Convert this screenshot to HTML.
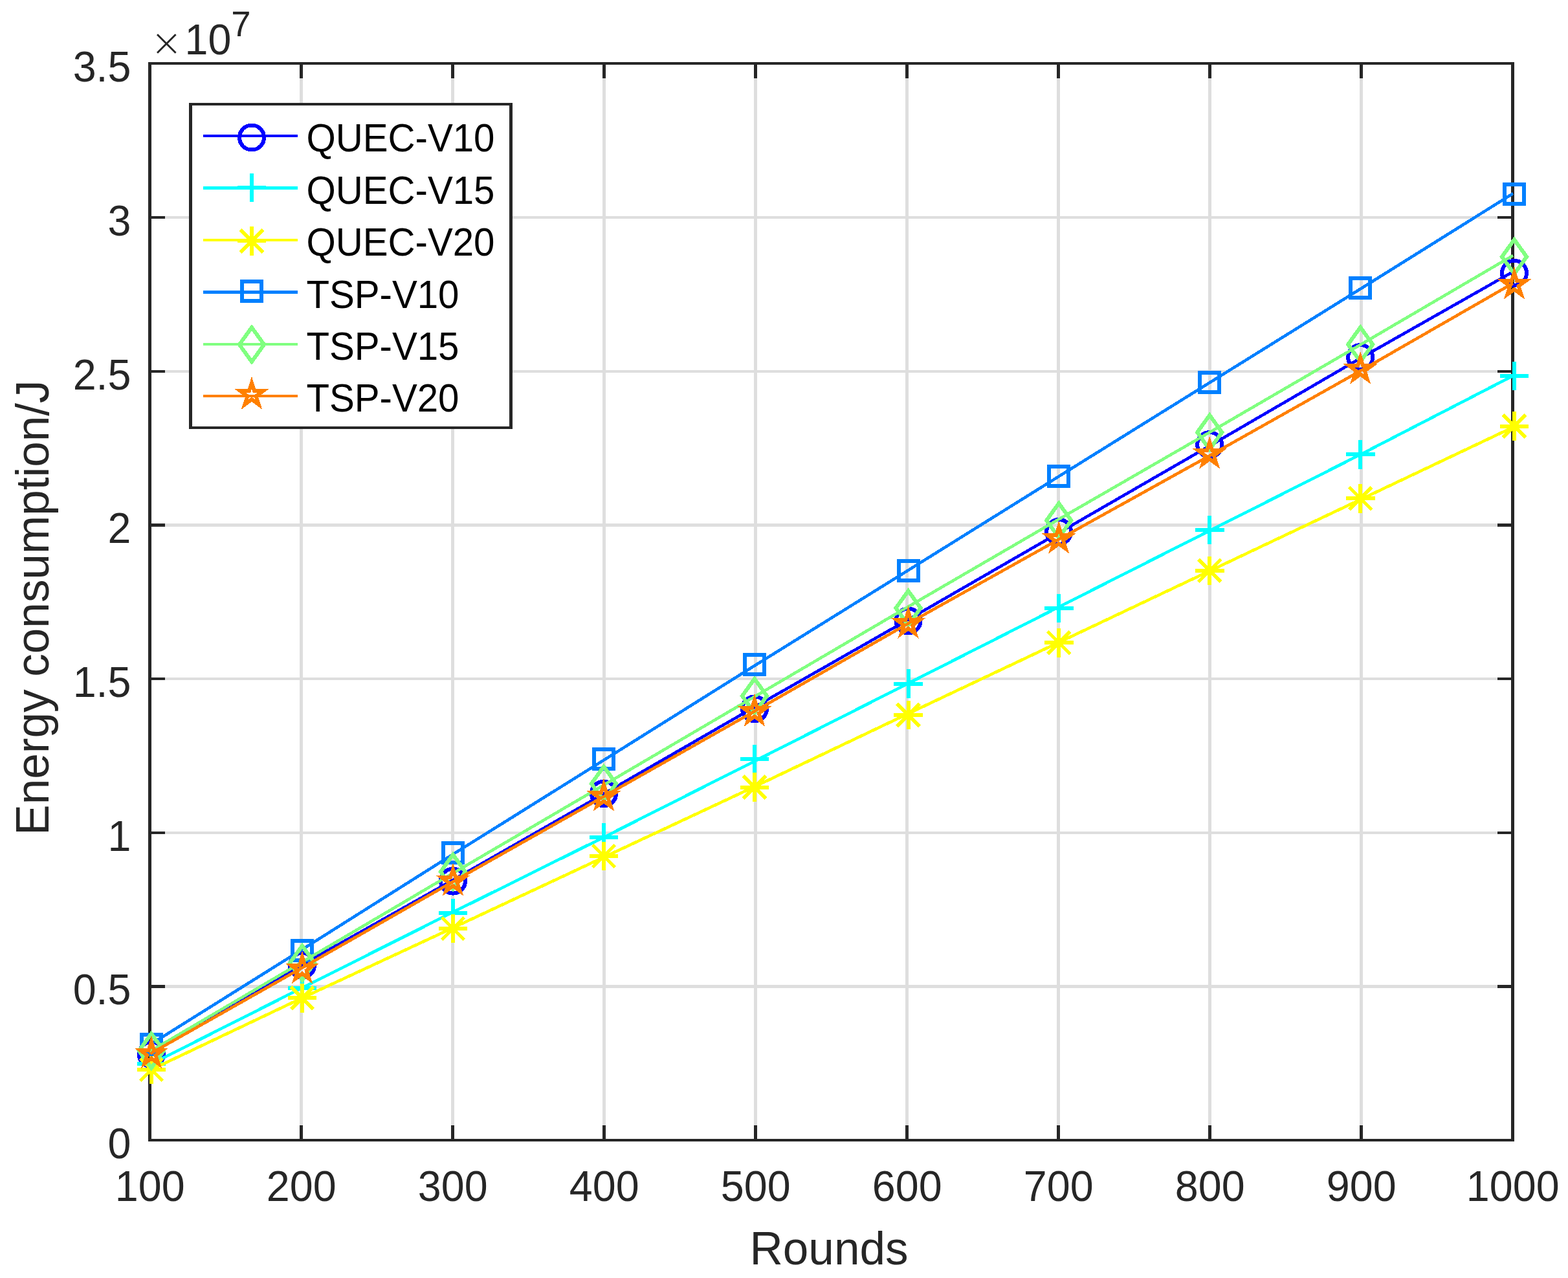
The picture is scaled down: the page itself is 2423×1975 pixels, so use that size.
<!DOCTYPE html>
<html lang="en"><head><meta charset="utf-8"><title>Energy consumption vs Rounds</title>
<style>html,body{margin:0;padding:0;background:#fff;overflow:hidden}svg{display:block}text{font-family:"Liberation Sans",sans-serif}</style>
</head><body>
<svg width="2423" height="1975" viewBox="0 0 2423 1975">
<rect width="2423" height="1975" fill="#fff"/>
<g fill="#dedede" shape-rendering="crispEdges"><rect x="463" y="100" width="5" height="1660"/><rect x="697" y="100" width="5" height="1660"/><rect x="931" y="100" width="5" height="1660"/><rect x="1165" y="100" width="5" height="1660"/><rect x="1399" y="100" width="5" height="1660"/><rect x="1633" y="100" width="5" height="1660"/><rect x="1867" y="100" width="5" height="1660"/><rect x="2101" y="100" width="5" height="1660"/><rect x="234" y="1522" width="2101" height="5"/><rect x="234" y="1285" width="2101" height="4"/><rect x="234" y="1047" width="2101" height="4"/><rect x="234" y="809" width="2101" height="5"/><rect x="234" y="572" width="2101" height="4"/><rect x="234" y="334" width="2101" height="4"/></g>
<g fill="#262626" shape-rendering="crispEdges"><rect x="229" y="96" width="5" height="1668"/><rect x="2335" y="96" width="5" height="1668"/><rect x="229" y="96" width="2111" height="4"/><rect x="229" y="1760" width="2111" height="4"/><rect x="463" y="1739" width="5" height="21"/><rect x="463" y="100" width="5" height="21"/><rect x="697" y="1739" width="5" height="21"/><rect x="697" y="100" width="5" height="21"/><rect x="931" y="1739" width="5" height="21"/><rect x="931" y="100" width="5" height="21"/><rect x="1165" y="1739" width="5" height="21"/><rect x="1165" y="100" width="5" height="21"/><rect x="1399" y="1739" width="5" height="21"/><rect x="1399" y="100" width="5" height="21"/><rect x="1633" y="1739" width="5" height="21"/><rect x="1633" y="100" width="5" height="21"/><rect x="1867" y="1739" width="5" height="21"/><rect x="1867" y="100" width="5" height="21"/><rect x="2101" y="1739" width="5" height="21"/><rect x="2101" y="100" width="5" height="21"/><rect x="234" y="1522" width="21" height="5"/><rect x="2314" y="1522" width="21" height="5"/><rect x="234" y="1285" width="21" height="4"/><rect x="2314" y="1285" width="21" height="4"/><rect x="234" y="1047" width="21" height="4"/><rect x="2314" y="1047" width="21" height="4"/><rect x="234" y="809" width="21" height="5"/><rect x="2314" y="809" width="21" height="5"/><rect x="234" y="572" width="21" height="4"/><rect x="2314" y="572" width="21" height="4"/><rect x="234" y="334" width="21" height="4"/><rect x="2314" y="334" width="21" height="4"/></g>
<g shape-rendering="crispEdges" stroke-linejoin="miter">
<polyline points="232,1628.86 466,1491.52 700,1360 934,1226.2 1168,1091.48 1402,958.36 1636,823.5 1870,688.55 2104,552.6 2338,419.98" fill="none" stroke="#0000ff" stroke-width="4.6" stroke-linejoin="round"/>
<circle cx="233.9" cy="1629.5" r="19" fill="none" stroke="#0000ff" stroke-width="6"/>
<circle cx="467" cy="1491.8" r="19" fill="none" stroke="#0000ff" stroke-width="6"/>
<circle cx="700" cy="1361.6" r="19" fill="none" stroke="#0000ff" stroke-width="6"/>
<circle cx="933" cy="1226.5" r="19" fill="none" stroke="#0000ff" stroke-width="6"/>
<circle cx="1166" cy="1095.4" r="19" fill="none" stroke="#0000ff" stroke-width="6"/>
<circle cx="1403.5" cy="959.4" r="19" fill="none" stroke="#0000ff" stroke-width="6"/>
<circle cx="1636.2" cy="821.9" r="19" fill="none" stroke="#0000ff" stroke-width="6"/>
<circle cx="1869.2" cy="687.1" r="19" fill="none" stroke="#0000ff" stroke-width="6"/>
<circle cx="2102.2" cy="552.1" r="19" fill="none" stroke="#0000ff" stroke-width="6"/>
<circle cx="2340" cy="421.8" r="19" fill="none" stroke="#0000ff" stroke-width="6"/>
<polyline points="232,1645.17 466,1527.02 700,1409.61 934,1293.43 1168,1175.31 1402,1056.84 1636,938.12 1870,819.77 2104,701.57 2338,580.73" fill="none" stroke="#00ffff" stroke-width="4.6" stroke-linejoin="round"/>
<path d="M211.6 1643.5H256.2M233.9 1621.2V1665.8" fill="none" stroke="#00ffff" stroke-width="6"/>
<path d="M444.7 1527.1H489.3M467 1504.8V1549.4" fill="none" stroke="#00ffff" stroke-width="6"/>
<path d="M677.7 1410.9H722.3M700 1388.6V1433.2" fill="none" stroke="#00ffff" stroke-width="6"/>
<path d="M910.7 1294.1H955.3M933 1271.8V1316.4" fill="none" stroke="#00ffff" stroke-width="6"/>
<path d="M1143.7 1173H1188.3M1166 1150.7V1195.3" fill="none" stroke="#00ffff" stroke-width="6"/>
<path d="M1381.2 1056.5H1425.8M1403.5 1034.2V1078.8" fill="none" stroke="#00ffff" stroke-width="6"/>
<path d="M1613.9 940H1658.5M1636.2 917.7V962.3" fill="none" stroke="#00ffff" stroke-width="6"/>
<path d="M1846.9 818.8H1891.5M1869.2 796.5V841.1" fill="none" stroke="#00ffff" stroke-width="6"/>
<path d="M2079.9 702.2H2124.5M2102.2 679.9V724.5" fill="none" stroke="#00ffff" stroke-width="6"/>
<path d="M2317.7 581H2362.3M2340 558.7V603.3" fill="none" stroke="#00ffff" stroke-width="6"/>
<polyline points="232,1653.82 466,1542.67 700,1433.81 934,1324.28 1168,1214.78 1402,1103.51 1636,992.82 1870,881.99 2104,771.16 2338,660.27" fill="none" stroke="#ffff00" stroke-width="4.6" stroke-linejoin="round"/>
<path d="M211.6 1653H256.2M233.9 1630.7V1675.3" fill="none" stroke="#ffff00" stroke-width="6"/><path d="M216.5 1635.6L251.3 1670.4M216.5 1670.4L251.3 1635.6" fill="none" stroke="#ffff00" stroke-width="5.4"/>
<path d="M444.7 1542.2H489.3M467 1519.9V1564.5" fill="none" stroke="#ffff00" stroke-width="6"/><path d="M449.6 1524.8L484.4 1559.6M449.6 1559.6L484.4 1524.8" fill="none" stroke="#ffff00" stroke-width="5.4"/>
<path d="M677.7 1435.1H722.3M700 1412.8V1457.4" fill="none" stroke="#ffff00" stroke-width="6"/><path d="M682.6 1417.7L717.4 1452.5M682.6 1452.5L717.4 1417.7" fill="none" stroke="#ffff00" stroke-width="5.4"/>
<path d="M910.7 1323H955.3M933 1300.7V1345.3" fill="none" stroke="#ffff00" stroke-width="6"/><path d="M915.6 1305.6L950.4 1340.4M915.6 1340.4L950.4 1305.6" fill="none" stroke="#ffff00" stroke-width="5.4"/>
<path d="M1143.7 1216.5H1188.3M1166 1194.2V1238.8" fill="none" stroke="#ffff00" stroke-width="6"/><path d="M1148.6 1199.1L1183.4 1233.9M1148.6 1233.9L1183.4 1199.1" fill="none" stroke="#ffff00" stroke-width="5.4"/>
<path d="M1381.2 1105.1H1425.8M1403.5 1082.8V1127.4" fill="none" stroke="#ffff00" stroke-width="6"/><path d="M1386.1 1087.7L1420.9 1122.5M1386.1 1122.5L1420.9 1087.7" fill="none" stroke="#ffff00" stroke-width="5.4"/>
<path d="M1613.9 993.2H1658.5M1636.2 970.9V1015.5" fill="none" stroke="#ffff00" stroke-width="6"/><path d="M1618.8 975.8L1653.6 1010.6M1618.8 1010.6L1653.6 975.8" fill="none" stroke="#ffff00" stroke-width="5.4"/>
<path d="M1846.9 881.8H1891.5M1869.2 859.5V904.1" fill="none" stroke="#ffff00" stroke-width="6"/><path d="M1851.8 864.4L1886.6 899.2M1851.8 899.2L1886.6 864.4" fill="none" stroke="#ffff00" stroke-width="5.4"/>
<path d="M2079.9 770.2H2124.5M2102.2 747.9V792.5" fill="none" stroke="#ffff00" stroke-width="6"/><path d="M2084.8 752.8L2119.6 787.6M2084.8 787.6L2119.6 752.8" fill="none" stroke="#ffff00" stroke-width="5.4"/>
<path d="M2317.7 658.7H2362.3M2340 636.4V681" fill="none" stroke="#ffff00" stroke-width="6"/><path d="M2322.6 641.3L2357.4 676.1M2322.6 676.1L2357.4 641.3" fill="none" stroke="#ffff00" stroke-width="5.4"/>
<polyline points="232,1614.4 466,1467.93 700,1320.19 934,1174.08 1168,1027.51 1402,882.19 1636,736.33 1870,590.86 2104,445.4 2338,299.1" fill="none" stroke="#0080ff" stroke-width="4.6" stroke-linejoin="round"/>
<rect x="218.9" y="1598.8" width="30" height="30" fill="none" stroke="#0080ff" stroke-width="6"/>
<rect x="452" y="1453.8" width="30" height="30" fill="none" stroke="#0080ff" stroke-width="6"/>
<rect x="685" y="1303" width="30" height="30" fill="none" stroke="#0080ff" stroke-width="6"/>
<rect x="918" y="1158" width="30" height="30" fill="none" stroke="#0080ff" stroke-width="6"/>
<rect x="1151" y="1012" width="30" height="30" fill="none" stroke="#0080ff" stroke-width="6"/>
<rect x="1388.5" y="867" width="30" height="30" fill="none" stroke="#0080ff" stroke-width="6"/>
<rect x="1621.2" y="721" width="30" height="30" fill="none" stroke="#0080ff" stroke-width="6"/>
<rect x="1854.2" y="576" width="30" height="30" fill="none" stroke="#0080ff" stroke-width="6"/>
<rect x="2087.2" y="430.2" width="30" height="30" fill="none" stroke="#0080ff" stroke-width="6"/>
<rect x="2325" y="284.9" width="30" height="30" fill="none" stroke="#0080ff" stroke-width="6"/>
<polyline points="232,1624.78 466,1487.24 700,1349.44 934,1212.64 1168,1075.43 1402,938.39 1636,802.52 1870,667.68 2104,531.69 2338,394.84" fill="none" stroke="#80ff80" stroke-width="4.6" stroke-linejoin="round"/>
<path d="M233.9 1597.4L253 1623.9L233.9 1650.4L214.8 1623.9Z" fill="none" stroke="#80ff80" stroke-width="6" stroke-miterlimit="10"/>
<path d="M467 1461.6L486.1 1488.1L467 1514.6L447.9 1488.1Z" fill="none" stroke="#80ff80" stroke-width="6" stroke-miterlimit="10"/>
<path d="M700 1320.7L719.1 1347.2L700 1373.7L680.9 1347.2Z" fill="none" stroke="#80ff80" stroke-width="6" stroke-miterlimit="10"/>
<path d="M933 1184.6L952.1 1211.1L933 1237.6L913.9 1211.1Z" fill="none" stroke="#80ff80" stroke-width="6" stroke-miterlimit="10"/>
<path d="M1166 1049L1185.1 1075.5L1166 1102L1146.9 1075.5Z" fill="none" stroke="#80ff80" stroke-width="6" stroke-miterlimit="10"/>
<path d="M1403.5 913.1L1422.6 939.6L1403.5 966.1L1384.4 939.6Z" fill="none" stroke="#80ff80" stroke-width="6" stroke-miterlimit="10"/>
<path d="M1636.2 777.8L1655.3 804.3L1636.2 830.8L1617.1 804.3Z" fill="none" stroke="#80ff80" stroke-width="6" stroke-miterlimit="10"/>
<path d="M1869.2 641.6L1888.3 668.1L1869.2 694.6L1850.1 668.1Z" fill="none" stroke="#80ff80" stroke-width="6" stroke-miterlimit="10"/>
<path d="M2102.2 505.8L2121.3 532.3L2102.2 558.8L2083.1 532.3Z" fill="none" stroke="#80ff80" stroke-width="6" stroke-miterlimit="10"/>
<path d="M2340 370.3L2359.1 396.8L2340 423.3L2320.9 396.8Z" fill="none" stroke="#80ff80" stroke-width="6" stroke-miterlimit="10"/>
<polyline points="232,1628.55 466,1496.09 700,1362.59 934,1230.39 1168,1098.04 1402,964.39 1636,833.67 1870,703.77 2104,572.15 2338,437.79" fill="none" stroke="#ff8000" stroke-width="4.6" stroke-linejoin="round"/>
<path d="M233.9 1609.83L238.01 1622.73L251.3 1622.73L240.55 1630.7L244.66 1643.6L233.9 1635.63L223.14 1643.6L227.25 1630.7L216.5 1622.73L229.79 1622.73Z" fill="none" stroke="#ff8000" stroke-width="5.8" stroke-miterlimit="10"/>
<path d="M467 1478.83L471.11 1491.73L484.4 1491.73L473.65 1499.7L477.76 1512.6L467 1504.63L456.24 1512.6L460.35 1499.7L449.6 1491.73L462.89 1491.73Z" fill="none" stroke="#ff8000" stroke-width="5.8" stroke-miterlimit="10"/>
<path d="M700 1343.23L704.11 1356.13L717.4 1356.13L706.65 1364.1L710.76 1377L700 1369.03L689.24 1377L693.35 1364.1L682.6 1356.13L695.89 1356.13Z" fill="none" stroke="#ff8000" stroke-width="5.8" stroke-miterlimit="10"/>
<path d="M933 1212.33L937.11 1225.23L950.4 1225.23L939.65 1233.2L943.76 1246.1L933 1238.13L922.24 1246.1L926.35 1233.2L915.6 1225.23L928.89 1225.23Z" fill="none" stroke="#ff8000" stroke-width="5.8" stroke-miterlimit="10"/>
<path d="M1166 1081.43L1170.11 1094.33L1183.4 1094.33L1172.65 1102.3L1176.76 1115.2L1166 1107.23L1155.24 1115.2L1159.35 1102.3L1148.6 1094.33L1161.89 1094.33Z" fill="none" stroke="#ff8000" stroke-width="5.8" stroke-miterlimit="10"/>
<path d="M1403.5 945.43L1407.61 958.33L1420.9 958.33L1410.15 966.3L1414.26 979.2L1403.5 971.23L1392.74 979.2L1396.85 966.3L1386.1 958.33L1399.39 958.33Z" fill="none" stroke="#ff8000" stroke-width="5.8" stroke-miterlimit="10"/>
<path d="M1636.2 814.43L1640.31 827.33L1653.6 827.33L1642.85 835.3L1646.96 848.2L1636.2 840.23L1625.44 848.2L1629.55 835.3L1618.8 827.33L1632.09 827.33Z" fill="none" stroke="#ff8000" stroke-width="5.8" stroke-miterlimit="10"/>
<path d="M1869.2 683.43L1873.31 696.33L1886.6 696.33L1875.85 704.3L1879.96 717.2L1869.2 709.23L1858.44 717.2L1862.55 704.3L1851.8 696.33L1865.09 696.33Z" fill="none" stroke="#ff8000" stroke-width="5.8" stroke-miterlimit="10"/>
<path d="M2102.2 552.43L2106.31 565.33L2119.6 565.33L2108.85 573.3L2112.96 586.2L2102.2 578.23L2091.44 586.2L2095.55 573.3L2084.8 565.33L2098.09 565.33Z" fill="none" stroke="#ff8000" stroke-width="5.8" stroke-miterlimit="10"/>
<path d="M2340 421.33L2344.11 434.23L2357.4 434.23L2346.65 442.2L2350.76 455.1L2340 447.13L2329.24 455.1L2333.35 442.2L2322.6 434.23L2335.89 434.23Z" fill="none" stroke="#ff8000" stroke-width="5.8" stroke-miterlimit="10"/>
</g>
<g shape-rendering="crispEdges"><rect x="292" y="159" width="500" height="504" fill="#262626"/><rect x="297" y="163" width="490" height="496" fill="#fff"/></g>
<g shape-rendering="crispEdges">
<rect x="314" y="208" width="146" height="4" fill="#0000ff"/>
<circle cx="389" cy="212.5" r="19" fill="none" stroke="#0000ff" stroke-width="6"/>
<rect x="314" y="288" width="146" height="5" fill="#00ffff"/>
<path d="M366.7 290H411.3M389 267.7V312.3" fill="none" stroke="#00ffff" stroke-width="6"/>
<rect x="314" y="369" width="146" height="4" fill="#ffff00"/>
<path d="M366.7 372.3H411.3M389 350V394.6" fill="none" stroke="#ffff00" stroke-width="6"/><path d="M371.6 354.9L406.4 389.7M371.6 389.7L406.4 354.9" fill="none" stroke="#ffff00" stroke-width="5.4"/>
<rect x="314" y="449" width="146" height="5" fill="#0080ff"/>
<rect x="374" y="435.07" width="30" height="30" fill="none" stroke="#0080ff" stroke-width="6"/>
<rect x="314" y="530" width="146" height="4" fill="#80ff80"/>
<path d="M389 506L408.1 532.5L389 559L369.9 532.5Z" fill="none" stroke="#80ff80" stroke-width="6" stroke-miterlimit="10"/>
<rect x="314" y="610" width="146" height="4" fill="#ff8000"/>
<path d="M389 591.38L393.11 604.28L406.4 604.28L395.65 612.25L399.76 625.15L389 617.18L378.24 625.15L382.35 612.25L371.6 604.28L384.89 604.28Z" fill="none" stroke="#ff8000" stroke-width="5.8" stroke-miterlimit="10"/>
</g>
<g font-size="58.2" fill="#000">
<text transform="translate(473.4 234.25) scale(1 1.050)">QUEC-V10</text>
<text transform="translate(473.4 314.6) scale(1 1.050)">QUEC-V15</text>
<text transform="translate(473.4 395.25) scale(1 1.050)">QUEC-V20</text>
<text transform="translate(473.4 475.7) scale(1 1.050)">TSP-V10</text>
<text transform="translate(473.4 556.2) scale(1 1.050)">TSP-V15</text>
<text transform="translate(473.4 636.25) scale(1 1.050)">TSP-V20</text>
</g>
<g font-size="64.6" fill="#262626">
<g text-anchor="middle">
<text transform="translate(231.7 1856.4) scale(1 1.025)">100</text>
<text transform="translate(465.7 1856.4) scale(1 1.025)">200</text>
<text transform="translate(699.7 1856.4) scale(1 1.025)">300</text>
<text transform="translate(933.7 1856.4) scale(1 1.025)">400</text>
<text transform="translate(1167.7 1856.4) scale(1 1.025)">500</text>
<text transform="translate(1401.7 1856.4) scale(1 1.025)">600</text>
<text transform="translate(1635.7 1856.4) scale(1 1.025)">700</text>
<text transform="translate(1869.7 1856.4) scale(1 1.025)">800</text>
<text transform="translate(2103.7 1856.4) scale(1 1.025)">900</text>
<text transform="translate(2337.7 1856.4) scale(1 1.025)">1000</text>
</g><g text-anchor="end">
<text transform="translate(202.5 1789.5) scale(1 1.025)">0</text>
<text transform="translate(202.5 1552) scale(1 1.025)">0.5</text>
<text transform="translate(202.5 1314.5) scale(1 1.025)">1</text>
<text transform="translate(202.5 1076.5) scale(1 1.025)">1.5</text>
<text transform="translate(202.5 839) scale(1 1.025)">2</text>
<text transform="translate(202.5 601.5) scale(1 1.025)">2.5</text>
<text transform="translate(202.5 363.5) scale(1 1.025)">3</text>
<text transform="translate(202.5 125.5) scale(1 1.025)">3.5</text>
</g>
<text x="232.4" y="86.4" font-size="59.2" font-weight="200" style="font-family:'DejaVu Sans','Liberation Sans',sans-serif">×</text>
<text transform="translate(285.5 84.3) scale(1 1.025)">10</text>
<text transform="translate(357.3 55.6) scale(1 1.025)" font-size="54.5">7</text>
</g>
<g font-size="71.1" fill="#262626">
<text transform="translate(1158.5 1954.2) scale(1 1.020)">Rounds</text>
<text transform="translate(74.9 1290.7) rotate(-90) scale(1 1.020)">Energy consumption/J</text>
</g>
</svg></body></html>
